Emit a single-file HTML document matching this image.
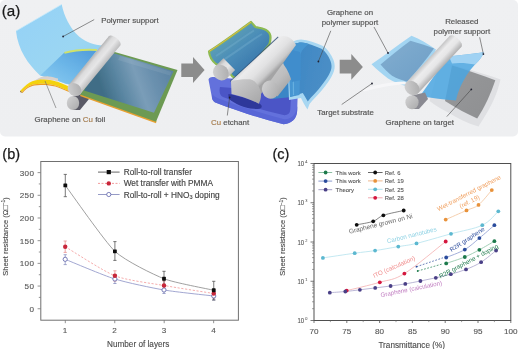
<!DOCTYPE html>
<html><head><meta charset="utf-8"><style>
html,body{margin:0;padding:0;background:#fff;}
svg{display:block;}
text{font-family:"Liberation Sans",sans-serif;}
.tk{font-size:8.1px;fill:#555;letter-spacing:0.45px;stroke:#555;stroke-width:0.12px;}
.lab{font-size:8.2px;fill:#4a4a4a;stroke:#4a4a4a;stroke-width:0.12px;}
.lg{font-size:8.3px;fill:#444;stroke:#444;stroke-width:0.15px;}
.tkc{font-size:8.1px;fill:#555;stroke:#555;stroke-width:0.12px;}
.lc{font-size:5.9px;fill:#555;stroke:#555;stroke-width:0.1px;}
.cl{font-size:6.2px;}
.pl{font-size:14.5px;fill:#1a1a1a;stroke:#1a1a1a;stroke-width:0.25px;}
.at{font-size:7.9px;fill:#555;stroke:#555;stroke-width:0.18px;}
</style></head><body>
<svg width="520" height="349" viewBox="0 0 520 349">
<filter id="soft" filterUnits="userSpaceOnUse" x="0" y="0" width="520" height="349"><feGaussianBlur stdDeviation="0.4"/></filter>
<rect width="520" height="349" fill="#fff"/>
<g filter="url(#soft)">
<defs>
  <linearGradient id="bgA" x1="0" y1="0" x2="0" y2="1">
    <stop offset="0" stop-color="#eff0f2"/><stop offset="1" stop-color="#eeeff1"/>
  </linearGradient>
  <linearGradient id="polyL" x1="0" y1="0" x2="1" y2="1">
    <stop offset="0" stop-color="#94d1f7"/><stop offset="0.6" stop-color="#9bd6f2"/><stop offset="1" stop-color="#8ccdf0"/>
  </linearGradient>
  <linearGradient id="polyL2" x1="0" y1="1" x2="1" y2="0">
    <stop offset="0" stop-color="#8ccdf2"/><stop offset="0.5" stop-color="#6cb6e8"/><stop offset="1" stop-color="#4f9ada"/>
  </linearGradient>
  <linearGradient id="rollG" x1="0" y1="0" x2="0" y2="1">
    <stop offset="0" stop-color="#b4b4b5"/><stop offset="0.25" stop-color="#dcdcdd"/><stop offset="0.55" stop-color="#e6e6e7"/><stop offset="1" stop-color="#bcbcbd"/>
  </linearGradient>
  <linearGradient id="capG" x1="0" y1="0" x2="1" y2="1">
    <stop offset="0" stop-color="#d4d4d5"/><stop offset="1" stop-color="#a9a9aa"/>
  </linearGradient>
  <linearGradient id="grInner" gradientUnits="userSpaceOnUse" x1="100" y1="85" x2="170" y2="60">
    <stop offset="0" stop-color="#3f6d86"/><stop offset="0.25" stop-color="#5a86a2"/><stop offset="0.5" stop-color="#7a9db8"/><stop offset="0.7" stop-color="#6a90ae"/><stop offset="1" stop-color="#5a82a2"/>
  </linearGradient>
  <linearGradient id="wavyG" gradientUnits="userSpaceOnUse" x1="225" y1="40" x2="250" y2="70">
    <stop offset="0" stop-color="#5a9cb6"/><stop offset="0.45" stop-color="#4a8cb8"/><stop offset="1" stop-color="#3a78ac"/>
  </linearGradient>
  <linearGradient id="rsheetG" x1="0" y1="0" x2="1" y2="0.3">
    <stop offset="0" stop-color="#3c86c4"/><stop offset="1" stop-color="#4a8ec6"/>
  </linearGradient>
  <linearGradient id="rollG2" gradientUnits="userSpaceOnUse" x1="250" y1="60" x2="268" y2="78">
    <stop offset="0" stop-color="#d2d2d3"/><stop offset="0.2" stop-color="#ececed"/><stop offset="0.55" stop-color="#e2e2e3"/><stop offset="0.85" stop-color="#cacacb"/><stop offset="1" stop-color="#a4a4a5"/>
  </linearGradient>
  <linearGradient id="capG2" x1="0" y1="0" x2="1" y2="1">
    <stop offset="0" stop-color="#cfcfd0"/><stop offset="1" stop-color="#a6a6a7"/>
  </linearGradient>
  <linearGradient id="rollG3" x1="0" y1="0" x2="1" y2="1">
    <stop offset="0" stop-color="#d0d0d1"/><stop offset="0.5" stop-color="#bdbdbe"/><stop offset="1" stop-color="#8e8e8f"/>
  </linearGradient>
  <linearGradient id="tgtG" x1="0" y1="0" x2="1" y2="1">
    <stop offset="0" stop-color="#98999b"/><stop offset="1" stop-color="#8e8f91"/>
  </linearGradient>
  <linearGradient id="inG" x1="0" y1="0" x2="1" y2="1">
    <stop offset="0" stop-color="#82aed0"/><stop offset="1" stop-color="#6e9ec6"/>
  </linearGradient>
  <linearGradient id="rollG4" x1="0" y1="0" x2="0" y2="1">
    <stop offset="0" stop-color="#c4c4c5"/><stop offset="0.3" stop-color="#ececed"/><stop offset="0.6" stop-color="#e6e6e7"/><stop offset="1" stop-color="#b0b0b1"/>
  </linearGradient>
</defs>
<rect x="0" y="0" width="518" height="136.5" rx="5" fill="url(#bgA)"/>
<text x="1.8" y="15.9" class="pl" style="font-size:15.2px">(a)</text>

<!-- ===== LEFT: roll-to-roll on Cu ===== -->
<!-- polymer sheet -->
<path d="M16,31 Q40,17 61.7,4.4 C64,16 70,28 79,36.5 C86,42 94,45.5 103,45.5 L72,84 L66,84 C56,80 47,77 40,75.5 C28,64 18,50 16,31 Z" fill="url(#polyL)"/>
<path d="M16,31 Q40,17 61.7,4.4" fill="none" stroke="#c4e8fa" stroke-width="0.8"/>
<!-- darker stacked region -->
<path d="M40.3,75.5 L64.4,52.5 C75,50 86,49.5 97,50 L70,85 C60,81 50,78 40.3,75.5 Z" fill="url(#polyL2)"/>
<path d="M64.4,52.8 C75,50 86,49.3 97,50" fill="none" stroke="#cfe26a" stroke-width="1.8"/>
<!-- white strip -->
<path d="M35.5,80 C40,77 44,76.2 48.5,76.4 C52,76.7 55,77.5 58,78.5 L58,81.5 C55,80.6 52,80 48.5,79.8 C44,79.6 40,79.8 35.5,80.8 Z" fill="#d9d1cc"/>
<!-- Cu foil -->
<path d="M20.5,90.5 C25,86 29,82.5 32.3,81.3 C36,80 40,79.5 43.8,79.6 C48,79.7 52,80.3 55.4,81.3 C59,82.3 63,83.8 69,86.5 L69,90.8 C63,88.5 59,86.5 55.4,85.4 C51,84.2 47,83.7 43.8,83.7 C39,83.8 35,84 32.3,84.8 C28,86 24.5,89 21.9,92.2 Z" fill="#f4d20c"/>
<path d="M21.9,92.2 C24.5,89 28,86 32.3,84.8 C35,84 39,83.8 43.8,83.7 C47,83.7 51,84.2 55.4,85.4 C59,86.5 63,88.5 69,90.8 L69,92 C63,89.8 59,87.8 55.4,86.6 C51,85.4 47,84.9 43.8,84.9 C39,85 35,85.2 32.3,86 C28,87.2 25,90 22.5,93 Z" fill="#ee9e22"/>
<path d="M20.5,90.5 L21.9,92.2 L22.5,93 L20,92 Z" fill="#9a6a20"/>
<!-- lower roller -->
<path d="M73,96 L86,93 L89,99 L80,110 L73,110 Z" fill="#5a5a66"/>
<ellipse cx="73" cy="103" rx="6.2" ry="7" fill="url(#capG)"/>
<!-- graphene sheet -->
<path d="M80,96 L156,123.2 L156.5,121 L81,94 Z" fill="#e8a030"/>
<path d="M106,49.5 L177.5,70.1 L156,121.7 L80,94.5 Z" fill="#6c9a52"/>
<path d="M107,51.3 L173.6,71.3 L154,112.8 L84,90.5 Z" fill="url(#grInner)"/>
<path d="M120,56 L171.5,72 L170,75.5 L118,60 Z" fill="#ffffff" fill-opacity="0.08"/>
<!-- upper roller -->
<g transform="translate(74.5,89.5) rotate(-50.5)">
  <rect x="0" y="-7.4" width="63" height="14.8" fill="url(#rollG)"/>
  <ellipse cx="63" cy="0" rx="3.5" ry="7.4" fill="url(#rollG)"/>
  <ellipse cx="0" cy="0" rx="6" ry="7.4" fill="url(#capG)"/>
</g>
<!-- leader lines -->
<line x1="63.1" y1="36.5" x2="94.2" y2="19.6" stroke="#444" stroke-width="0.6"/>
<circle cx="63.1" cy="36.5" r="0.9" fill="#223"/>
<line x1="45" y1="81" x2="56" y2="108" stroke="#666" stroke-width="0.6"/>
<text x="101.2" y="23.3" class="at">Polymer support</text>
<text x="34.6" y="122.3" class="at">Graphene on <tspan fill="#e8a050">Cu</tspan> foil</text>

<!-- ===== MIDDLE: etching ===== -->
<!-- tray -->
<path d="M208.5,79.5 C209,77.3 211,76.6 214,77 L292,84 C295.5,84.5 297.8,87 297.8,91 L297.2,110 C297,116 294.6,120.2 290,122.6 C287.5,123.9 285.5,124.3 283.6,124.3 C260,118.3 236,110.5 216,102.8 C213.5,101.8 212.5,100.2 212,98 Z" fill="#6371dc"/>
<path d="M212,98 C212.5,100.2 213.5,101.8 216,102.8 C236,110.5 260,118.3 283.6,124.3 C285.5,124.3 287.5,123.9 290,122.6 C294.6,120.2 297,116 297.2,110 L297.3,106 C296.5,112 294,116 290,118 C288,119 286,119.3 284,119.2 C262,113.5 240,106.5 220,99 C216.5,97.7 214,96.5 212.3,94 Z" fill="#5866d6"/>
<path d="M220,87 L287.5,92.5 C290,93 291.2,95 291,97.5 L290.3,109.5 C290,113.2 288,115.2 284.5,115.2 C262,110.5 240,103.5 223,97 C220,95.5 218.8,92 220,87 Z" fill="#4b55c6"/>
<path d="M228.5,94 C240,96 252,100 260,104 C263,106 262,108.5 257.5,109 C248,109 238,105.5 231,100.5 C229,99 228,96.5 228.5,94 Z" fill="#2f379a"/>
<!-- right sheet (behind rollers) -->
<path d="M264,72 L289,46 L292,97 L272,99 Z" fill="#3a86c6"/>
<path d="M287,48 C290,42.5 295.5,39.5 301,39.5 C308,40 316,43 323,46 C327.5,49 331,54 333.5,60 C335,64 335,68 334,71 C332.5,75 330.5,78.5 328.5,81.5 C324,88 318,95 312,101 L309.5,104 L307.5,109.5 C305,106 303,102 301,98 L289,100 Z" fill="#a8d7f2"/>
<path d="M289,49 C292,44.5 296.5,42.5 301.5,42.5 C307.5,43 315,46 321.5,48.8 C325.5,51.5 328.5,56 330.5,61 C331.8,64.5 331.8,67.5 331,70 C329.8,73.5 328,76.5 326,79.5 C321.5,86 316,92.5 310.5,98 L307.8,101.5 C306,98.5 304.3,95.5 302.8,93 L290,97 Z" fill="url(#rsheetG)"/>
<path d="M289,49 C292,44.5 296.5,42.5 301.5,42.5 C304,42.5 306.5,43 309,44 C305,46.5 302,50 300.5,54 L299.5,95 L290,97 Z" fill="#4796d2"/>
<path d="M293,52 L293.5,95" stroke="#7cc0ea" stroke-width="1.2" stroke-opacity="0.6"/>
<!-- left wavy sheet -->
<path d="M209,51.5 C223,42.5 237,32 251.1,22 C253,23.5 254,26 255.6,27 C258,27.8 260.5,27.8 263.1,28.8 C266.5,30 269.5,32 270.3,35.5 C270.8,38.5 270.3,41.5 269.3,44.5 L240,80 L232.5,76.5 C229,71 223,66.5 216,64 C211.5,60.5 209.5,56.5 209,51.5 Z" fill="url(#wavyG)" stroke="#8cba52" stroke-width="2.2" stroke-linejoin="round"/>
<path d="M209,51.5 C223,42.5 237,32 251.1,22" fill="none" stroke="#e2b840" stroke-width="1"/>
<path d="M216,56 C230,47 242,38 254,30.5 M221,61.5 C236,52 249,42 262,34" fill="none" stroke="#7ab4d0" stroke-width="2" stroke-opacity="0.35"/>
<!-- left small roller -->
<g transform="translate(220.8,72.6) rotate(-45)">
  <rect x="0" y="-8.3" width="12" height="16.6" fill="url(#rollG)"/>
  <ellipse cx="0" cy="0" rx="7.4" ry="8.3" fill="url(#capG)"/>
</g>
<!-- right small roller -->
<path d="M263,83 L284,62 L296,73 L277.5,96.5 Z" fill="url(#rollG3)"/>
<path d="M281,58 L292,50 L300,52 L301,80 L292,82 C290,76 288,70 284,65 Z" fill="#3f8dcc"/>
<!-- big roller (cone in perspective) -->
<path d="M230.5,81.5 L278.4,37.2" stroke="#2c4c70" stroke-width="1.6" stroke-opacity="0.8"/>
<path d="M231,81 L278.9,36.9 C285,34.5 292,37 296,44.9 L261,94 Z" fill="url(#rollG2)"/>
<path d="M231,81 C238,79.5 244,79 250,79.3 C255,80.5 259,85 260.8,92 C261.5,96.5 260.5,100.5 258.7,103.7 C252,100 242,96.5 231.5,94 Z" fill="url(#capG2)"/>
<ellipse cx="270.3" cy="89.6" rx="8.3" ry="9.2" transform="rotate(-20 270.3 89.6)" fill="url(#capG)"/>
<!-- leader & text -->
<line x1="229.6" y1="97.5" x2="227.3" y2="115.5" stroke="#444" stroke-width="0.6"/><circle cx="229.6" cy="97.5" r="0.9" fill="#223"/>
<text x="211" y="125.4" class="at"><tspan fill="#e8a050">Cu</tspan> etchant</text>

<!-- ===== RIGHT: transfer to target ===== -->
<!-- gray target (graphene on target) -->
<path d="M440,62 C458,66 478,72 492,76.5 C495,77.5 498,78.5 500.5,79.5 C499,86 497,92 494.5,98 C491.5,105 487.5,112 483.5,118.5 C481.5,121.5 480,124 478.6,126.5 C468,123.5 458,118.5 449,113 C442,109 436,106 429.6,101 Z" fill="#dfe0e3"/>
<path d="M452,65.5 C466,69.5 481,75 495.3,80.3 C493,87 490.5,93.5 487.5,100 C484.5,106.5 481,112.5 477.2,118.5 C467,114 456,108 445,101 Z" fill="url(#tgtG)"/>
<!-- incoming sheet -->
<path d="M371.5,64.3 C385,55 398,45 411.5,35.7 C420,39 428,44 436,49.5 L421,82 L408,86.5 C400,84.5 394,82 388,78.5 C382,74 376.5,69.5 371.5,64.3 Z" fill="#a3d5f2"/>
<path d="M380.5,64.4 C390,56.5 400,48.5 410.4,40.8 C418,43 426,45.5 434,48.6 C426,60 417,71 407.3,81.7 C402,80.5 397,78.5 392,75.8 C388,72.5 384,68.5 380.5,64.4 Z" fill="url(#inG)"/>
<!-- target substrate (white) -->
<path d="M362,89.5 C375,85 390,82 404,81.5 L410,84 C395,84.5 380,87 364,91.5 Z" fill="#f6f6f8"/>
<!-- blue polymer going right -->
<path d="M420,96 L448,56.5 C460,55.5 472,54 484,52.3 C482,57 479,61 475,64.5 C468.5,71.5 464,79 460.5,86.5 C458.5,91 457,95.5 456,100.5 C444,99.5 432,98 421,96.5 Z" fill="#4aa6e2" fill-opacity="0.85"/>
<path d="M449,56.5 C460,55.5 472,54 484,52.3 C482,57 479,61 475,64.5 C467,63 459,62.5 452,63.5 Z" fill="#a6d6f4" fill-opacity="0.9"/>
<!-- lower roller -->
<path d="M412,95.5 L425,92.5 L428,99 L419,109 L412,109 Z" fill="#8a8a92"/>
<ellipse cx="412" cy="102.3" rx="6.6" ry="7" fill="url(#capG)"/>
<!-- upper roller -->
<g transform="translate(412,88) rotate(-47)">
  <rect x="0" y="-8" width="64" height="16" fill="url(#rollG4)"/>
  <ellipse cx="64" cy="0" rx="3.5" ry="8" fill="url(#rollG4)"/>
  <ellipse cx="0" cy="0" rx="6.6" ry="8" fill="url(#capG)"/>
</g>
<!-- leaders -->
<line x1="330.8" y1="30.8" x2="318.4" y2="61.5" stroke="#444" stroke-width="0.6"/>
<circle cx="318.4" cy="61.5" r="0.9" fill="#223"/>
<line x1="374" y1="27" x2="388" y2="53" stroke="#444" stroke-width="0.6"/>
<circle cx="388" cy="53" r="0.9" fill="#223"/>
<line x1="341.7" y1="104.5" x2="372" y2="83.5" stroke="#444" stroke-width="0.6"/>
<circle cx="372" cy="83.5" r="0.9" fill="#223"/>
<line x1="479.7" y1="37.3" x2="483.4" y2="54.1" stroke="#444" stroke-width="0.6"/>
<circle cx="483.4" cy="54.1" r="0.9" fill="#223"/>
<line x1="446.8" y1="116.6" x2="471.3" y2="89.4" stroke="#444" stroke-width="0.6"/>
<circle cx="471.3" cy="89.4" r="0.9" fill="#223"/>
<!-- labels -->
<text x="350" y="15" text-anchor="middle" class="at">Graphene on</text>
<text x="350" y="24.6" text-anchor="middle" class="at">polymer support</text>
<text x="461.8" y="23.6" text-anchor="middle" class="at">Released</text>
<text x="461.8" y="33.8" text-anchor="middle" class="at">polymer support</text>
<text x="317.2" y="114.6" class="at">Target substrate</text>
<text x="385.6" y="124.6" class="at">Graphene on target</text>

<!-- arrows -->
<path d="M181.3,63.5 H193 V57.1 L204.6,70 L193,82.9 V77.1 H181.3 Z" fill="#8c8c8c"/>
<path d="M339.7,59.8 H351.3 V54 L362.9,66.9 L351.3,79.8 V73.4 H339.7 Z" fill="#8c8c8c"/>

<rect x="40.8" y="161.5" width="197.6" height="158.7" fill="none" stroke="#707070" stroke-width="1"/>
<line x1="37.6" y1="308.75" x2="40.8" y2="308.75" stroke="#777" stroke-width="0.8"/>
<text x="34.5" y="311.65" text-anchor="end" class="tk">0</text>
<line x1="38.8" y1="297.4" x2="40.8" y2="297.4" stroke="#777" stroke-width="0.8"/>
<line x1="37.6" y1="286.06" x2="40.8" y2="286.06" stroke="#777" stroke-width="0.8"/>
<text x="34.5" y="288.96" text-anchor="end" class="tk">50</text>
<line x1="38.8" y1="274.72" x2="40.8" y2="274.72" stroke="#777" stroke-width="0.8"/>
<line x1="37.6" y1="263.37" x2="40.8" y2="263.37" stroke="#777" stroke-width="0.8"/>
<text x="34.5" y="266.27" text-anchor="end" class="tk">100</text>
<line x1="38.8" y1="252.03" x2="40.8" y2="252.03" stroke="#777" stroke-width="0.8"/>
<line x1="37.6" y1="240.68" x2="40.8" y2="240.68" stroke="#777" stroke-width="0.8"/>
<text x="34.5" y="243.58" text-anchor="end" class="tk">150</text>
<line x1="38.8" y1="229.34" x2="40.8" y2="229.34" stroke="#777" stroke-width="0.8"/>
<line x1="37.6" y1="217.99" x2="40.8" y2="217.99" stroke="#777" stroke-width="0.8"/>
<text x="34.5" y="220.89" text-anchor="end" class="tk">200</text>
<line x1="38.8" y1="206.65" x2="40.8" y2="206.65" stroke="#777" stroke-width="0.8"/>
<line x1="37.6" y1="195.3" x2="40.8" y2="195.3" stroke="#777" stroke-width="0.8"/>
<text x="34.5" y="198.2" text-anchor="end" class="tk">250</text>
<line x1="38.8" y1="183.95" x2="40.8" y2="183.95" stroke="#777" stroke-width="0.8"/>
<line x1="37.6" y1="172.61" x2="40.8" y2="172.61" stroke="#777" stroke-width="0.8"/>
<text x="34.5" y="175.51" text-anchor="end" class="tk">300</text>
<line x1="65.3" y1="320.2" x2="65.3" y2="323.2" stroke="#777" stroke-width="0.8"/>
<text x="65.3" y="333.2" text-anchor="middle" class="tk">1</text>
<line x1="114.75" y1="320.2" x2="114.75" y2="323.2" stroke="#777" stroke-width="0.8"/>
<text x="114.75" y="333.2" text-anchor="middle" class="tk">2</text>
<line x1="164.2" y1="320.2" x2="164.2" y2="323.2" stroke="#777" stroke-width="0.8"/>
<text x="164.2" y="333.2" text-anchor="middle" class="tk">3</text>
<line x1="213.65" y1="320.2" x2="213.65" y2="323.2" stroke="#777" stroke-width="0.8"/>
<text x="213.65" y="333.2" text-anchor="middle" class="tk">4</text>
<text x="138.2" y="346.6" text-anchor="middle" class="lab">Number of layers</text>
<text transform="translate(7.5,236.5) rotate(-90)" text-anchor="middle" class="lab" style="font-size:7.5px">Sheet resistance (Ω□<tspan dy="-2.4" font-size="4.8">−1</tspan><tspan dy="2.4">)</tspan></text>
<path d="M65.2,259.3 C71,261.6 103.37,275.42 114.9,279 C126.43,282.58 152.47,288.02 164,290 C175.53,291.98 207.95,295.3 213.75,296" fill="none" stroke="#979dcc" stroke-width="0.9"/>
<path d="M65.2,246.7 C71,250.09 103.37,271.27 114.9,275.8 C126.43,280.33 152.47,283.44 164,285.5 C175.53,287.56 207.95,292.57 213.75,293.5" fill="none" stroke="#f4a4a4" stroke-width="0.9" stroke-dasharray="2.2,1.6"/>
<path d="M65.3,185.4 C70.26,191.99 105.03,241.97 114.9,251.3 C124.77,260.63 154.12,274.86 164,278.75 C173.88,282.64 208.78,289.1 213.75,290.25" fill="none" stroke="#959595" stroke-width="0.9"/>
<line x1="65.2" y1="254.7" x2="65.2" y2="264.6" stroke="#8a90c0" stroke-width="0.8"/><line x1="63.6" y1="254.7" x2="66.8" y2="254.7" stroke="#8a90c0" stroke-width="0.8"/><line x1="63.6" y1="264.6" x2="66.8" y2="264.6" stroke="#8a90c0" stroke-width="0.8"/>
<line x1="114.9" y1="274.5" x2="114.9" y2="283.5" stroke="#8a90c0" stroke-width="0.8"/><line x1="113.3" y1="274.5" x2="116.5" y2="274.5" stroke="#8a90c0" stroke-width="0.8"/><line x1="113.3" y1="283.5" x2="116.5" y2="283.5" stroke="#8a90c0" stroke-width="0.8"/>
<line x1="164" y1="286.5" x2="164" y2="293.5" stroke="#8a90c0" stroke-width="0.8"/><line x1="162.4" y1="286.5" x2="165.6" y2="286.5" stroke="#8a90c0" stroke-width="0.8"/><line x1="162.4" y1="293.5" x2="165.6" y2="293.5" stroke="#8a90c0" stroke-width="0.8"/>
<line x1="213.75" y1="292" x2="213.75" y2="300" stroke="#8a90c0" stroke-width="0.8"/><line x1="212.15" y1="292" x2="215.35" y2="292" stroke="#8a90c0" stroke-width="0.8"/><line x1="212.15" y1="300" x2="215.35" y2="300" stroke="#8a90c0" stroke-width="0.8"/>
<line x1="65.2" y1="241" x2="65.2" y2="252.4" stroke="#e89090" stroke-width="0.8"/><line x1="63.6" y1="241" x2="66.8" y2="241" stroke="#e89090" stroke-width="0.8"/><line x1="63.6" y1="252.4" x2="66.8" y2="252.4" stroke="#e89090" stroke-width="0.8"/>
<line x1="114.9" y1="270.8" x2="114.9" y2="281" stroke="#e89090" stroke-width="0.8"/><line x1="113.3" y1="270.8" x2="116.5" y2="270.8" stroke="#e89090" stroke-width="0.8"/><line x1="113.3" y1="281" x2="116.5" y2="281" stroke="#e89090" stroke-width="0.8"/>
<line x1="164" y1="281" x2="164" y2="290" stroke="#e89090" stroke-width="0.8"/><line x1="162.4" y1="281" x2="165.6" y2="281" stroke="#e89090" stroke-width="0.8"/><line x1="162.4" y1="290" x2="165.6" y2="290" stroke="#e89090" stroke-width="0.8"/>
<line x1="213.75" y1="289.5" x2="213.75" y2="298" stroke="#e89090" stroke-width="0.8"/><line x1="212.15" y1="289.5" x2="215.35" y2="289.5" stroke="#e89090" stroke-width="0.8"/><line x1="212.15" y1="298" x2="215.35" y2="298" stroke="#e89090" stroke-width="0.8"/>
<line x1="65.3" y1="174.4" x2="65.3" y2="196.7" stroke="#555" stroke-width="0.8"/><line x1="63.7" y1="174.4" x2="66.9" y2="174.4" stroke="#555" stroke-width="0.8"/><line x1="63.7" y1="196.7" x2="66.9" y2="196.7" stroke="#555" stroke-width="0.8"/>
<line x1="114.9" y1="241.6" x2="114.9" y2="260.4" stroke="#555" stroke-width="0.8"/><line x1="113.3" y1="241.6" x2="116.5" y2="241.6" stroke="#555" stroke-width="0.8"/><line x1="113.3" y1="260.4" x2="116.5" y2="260.4" stroke="#555" stroke-width="0.8"/>
<line x1="164" y1="271.3" x2="164" y2="286.5" stroke="#555" stroke-width="0.8"/><line x1="162.4" y1="271.3" x2="165.6" y2="271.3" stroke="#555" stroke-width="0.8"/><line x1="162.4" y1="286.5" x2="165.6" y2="286.5" stroke="#555" stroke-width="0.8"/>
<line x1="213.75" y1="281.3" x2="213.75" y2="300" stroke="#555" stroke-width="0.8"/><line x1="212.15" y1="281.3" x2="215.35" y2="281.3" stroke="#555" stroke-width="0.8"/><line x1="212.15" y1="300" x2="215.35" y2="300" stroke="#555" stroke-width="0.8"/>
<circle cx="65.2" cy="259.3" r="2.1" fill="#fff" stroke="#5a5fa8" stroke-width="0.8"/>
<circle cx="114.9" cy="279" r="2.1" fill="#fff" stroke="#5a5fa8" stroke-width="0.8"/>
<circle cx="164" cy="290" r="2.1" fill="#fff" stroke="#5a5fa8" stroke-width="0.8"/>
<circle cx="213.75" cy="296" r="2.1" fill="#fff" stroke="#5a5fa8" stroke-width="0.8"/>
<circle cx="65.2" cy="246.7" r="2.2" fill="#c8283a"/>
<circle cx="114.9" cy="275.8" r="2.2" fill="#c8283a"/>
<circle cx="164" cy="285.5" r="2.2" fill="#c8283a"/>
<circle cx="213.75" cy="293.5" r="2.2" fill="#c8283a"/>
<rect x="63.4" y="183.5" width="3.8" height="3.8" rx="0.6" fill="#111"/>
<rect x="113" y="249.4" width="3.8" height="3.8" rx="0.6" fill="#111"/>
<rect x="162.1" y="276.85" width="3.8" height="3.8" rx="0.6" fill="#111"/>
<rect x="211.85" y="288.35" width="3.8" height="3.8" rx="0.6" fill="#111"/>
<line x1="98" y1="172.1" x2="119.6" y2="172.1" stroke="#555" stroke-width="0.9"/><rect x="106.7" y="170" width="4.2" height="4.2" fill="#111"/>
<text x="123.7" y="175.1" class="lg">Roll-to-roll transfer</text>
<line x1="98" y1="183.4" x2="119.6" y2="183.4" stroke="#f09090" stroke-width="0.9" stroke-dasharray="2,1.5"/><circle cx="108.8" cy="183.4" r="2.2" fill="#c8283a"/>
<text x="123.7" y="186.4" class="lg">Wet transfer with PMMA</text>
<line x1="98" y1="194.5" x2="119.6" y2="194.5" stroke="#8a90c0" stroke-width="0.9"/><circle cx="108.8" cy="194.5" r="2.1" fill="#fff" stroke="#5a5fa8" stroke-width="0.8"/>
<text x="123.7" y="197.5" class="lg">Roll-to-roll + HNO<tspan dy="1.6" font-size="5.5">3</tspan><tspan dy="-1.6"> doping</tspan></text>
<text x="2.3" y="158.6" class="pl">(b)</text>
<rect x="314.0" y="163.5" width="196.8" height="157" fill="none" stroke="#505050" stroke-width="1"/>
<line x1="312" y1="308.68" x2="314.0" y2="308.68" stroke="#666" stroke-width="0.6"/>
<line x1="312" y1="301.77" x2="314.0" y2="301.77" stroke="#666" stroke-width="0.6"/>
<line x1="312" y1="296.87" x2="314.0" y2="296.87" stroke="#666" stroke-width="0.6"/>
<line x1="312" y1="293.07" x2="314.0" y2="293.07" stroke="#666" stroke-width="0.6"/>
<line x1="312" y1="289.96" x2="314.0" y2="289.96" stroke="#666" stroke-width="0.6"/>
<line x1="312" y1="287.33" x2="314.0" y2="287.33" stroke="#666" stroke-width="0.6"/>
<line x1="312" y1="285.05" x2="314.0" y2="285.05" stroke="#666" stroke-width="0.6"/>
<line x1="312" y1="283.05" x2="314.0" y2="283.05" stroke="#666" stroke-width="0.6"/>
<line x1="312" y1="269.43" x2="314.0" y2="269.43" stroke="#666" stroke-width="0.6"/>
<line x1="312" y1="262.52" x2="314.0" y2="262.52" stroke="#666" stroke-width="0.6"/>
<line x1="312" y1="257.62" x2="314.0" y2="257.62" stroke="#666" stroke-width="0.6"/>
<line x1="312" y1="253.82" x2="314.0" y2="253.82" stroke="#666" stroke-width="0.6"/>
<line x1="312" y1="250.71" x2="314.0" y2="250.71" stroke="#666" stroke-width="0.6"/>
<line x1="312" y1="248.08" x2="314.0" y2="248.08" stroke="#666" stroke-width="0.6"/>
<line x1="312" y1="245.8" x2="314.0" y2="245.8" stroke="#666" stroke-width="0.6"/>
<line x1="312" y1="243.8" x2="314.0" y2="243.8" stroke="#666" stroke-width="0.6"/>
<line x1="312" y1="230.18" x2="314.0" y2="230.18" stroke="#666" stroke-width="0.6"/>
<line x1="312" y1="223.27" x2="314.0" y2="223.27" stroke="#666" stroke-width="0.6"/>
<line x1="312" y1="218.37" x2="314.0" y2="218.37" stroke="#666" stroke-width="0.6"/>
<line x1="312" y1="214.57" x2="314.0" y2="214.57" stroke="#666" stroke-width="0.6"/>
<line x1="312" y1="211.46" x2="314.0" y2="211.46" stroke="#666" stroke-width="0.6"/>
<line x1="312" y1="208.83" x2="314.0" y2="208.83" stroke="#666" stroke-width="0.6"/>
<line x1="312" y1="206.55" x2="314.0" y2="206.55" stroke="#666" stroke-width="0.6"/>
<line x1="312" y1="204.55" x2="314.0" y2="204.55" stroke="#666" stroke-width="0.6"/>
<line x1="312" y1="190.93" x2="314.0" y2="190.93" stroke="#666" stroke-width="0.6"/>
<line x1="312" y1="184.02" x2="314.0" y2="184.02" stroke="#666" stroke-width="0.6"/>
<line x1="312" y1="179.12" x2="314.0" y2="179.12" stroke="#666" stroke-width="0.6"/>
<line x1="312" y1="175.32" x2="314.0" y2="175.32" stroke="#666" stroke-width="0.6"/>
<line x1="312" y1="172.21" x2="314.0" y2="172.21" stroke="#666" stroke-width="0.6"/>
<line x1="312" y1="169.58" x2="314.0" y2="169.58" stroke="#666" stroke-width="0.6"/>
<line x1="312" y1="167.3" x2="314.0" y2="167.3" stroke="#666" stroke-width="0.6"/>
<line x1="312" y1="165.3" x2="314.0" y2="165.3" stroke="#666" stroke-width="0.6"/>
<line x1="310.5" y1="320.5" x2="314.0" y2="320.5" stroke="#555" stroke-width="0.8"/>
<text x="297.4" y="323.2" class="tkc" style="font-size:7.4px" textLength="6.6" lengthAdjust="spacingAndGlyphs">10</text><text x="305.2" y="320.2" class="tkc" style="font-size:3.9px;stroke-width:0.05px">0</text>
<line x1="310.5" y1="281.25" x2="314.0" y2="281.25" stroke="#555" stroke-width="0.8"/>
<text x="297.4" y="283.95" class="tkc" style="font-size:7.4px" textLength="6.6" lengthAdjust="spacingAndGlyphs">10</text><text x="305.2" y="280.95" class="tkc" style="font-size:3.9px;stroke-width:0.05px">1</text>
<line x1="310.5" y1="242" x2="314.0" y2="242" stroke="#555" stroke-width="0.8"/>
<text x="297.4" y="244.7" class="tkc" style="font-size:7.4px" textLength="6.6" lengthAdjust="spacingAndGlyphs">10</text><text x="305.2" y="241.7" class="tkc" style="font-size:3.9px;stroke-width:0.05px">2</text>
<line x1="310.5" y1="202.75" x2="314.0" y2="202.75" stroke="#555" stroke-width="0.8"/>
<text x="297.4" y="205.45" class="tkc" style="font-size:7.4px" textLength="6.6" lengthAdjust="spacingAndGlyphs">10</text><text x="305.2" y="202.45" class="tkc" style="font-size:3.9px;stroke-width:0.05px">3</text>
<line x1="310.5" y1="163.5" x2="314.0" y2="163.5" stroke="#555" stroke-width="0.8"/>
<text x="297.4" y="166.2" class="tkc" style="font-size:7.4px" textLength="6.6" lengthAdjust="spacingAndGlyphs">10</text><text x="305.2" y="163.2" class="tkc" style="font-size:3.9px;stroke-width:0.05px">4</text>
<line x1="314" y1="320.5" x2="314" y2="323" stroke="#555" stroke-width="0.8"/>
<text x="314" y="334" text-anchor="middle" class="tkc">70</text>
<line x1="346.8" y1="320.5" x2="346.8" y2="323" stroke="#555" stroke-width="0.8"/>
<text x="346.8" y="334" text-anchor="middle" class="tkc">75</text>
<line x1="379.6" y1="320.5" x2="379.6" y2="323" stroke="#555" stroke-width="0.8"/>
<text x="379.6" y="334" text-anchor="middle" class="tkc">80</text>
<line x1="412.4" y1="320.5" x2="412.4" y2="323" stroke="#555" stroke-width="0.8"/>
<text x="412.4" y="334" text-anchor="middle" class="tkc">85</text>
<line x1="445.2" y1="320.5" x2="445.2" y2="323" stroke="#555" stroke-width="0.8"/>
<text x="445.2" y="334" text-anchor="middle" class="tkc">90</text>
<line x1="478" y1="320.5" x2="478" y2="323" stroke="#555" stroke-width="0.8"/>
<text x="478" y="334" text-anchor="middle" class="tkc">95</text>
<line x1="510.8" y1="320.5" x2="510.8" y2="323" stroke="#555" stroke-width="0.8"/>
<text x="510.8" y="334" text-anchor="middle" class="tkc">100</text>
<line x1="330.4" y1="320.5" x2="330.4" y2="322.1" stroke="#666" stroke-width="0.6"/>
<line x1="363.2" y1="320.5" x2="363.2" y2="322.1" stroke="#666" stroke-width="0.6"/>
<line x1="396" y1="320.5" x2="396" y2="322.1" stroke="#666" stroke-width="0.6"/>
<line x1="428.8" y1="320.5" x2="428.8" y2="322.1" stroke="#666" stroke-width="0.6"/>
<line x1="461.6" y1="320.5" x2="461.6" y2="322.1" stroke="#666" stroke-width="0.6"/>
<line x1="494.4" y1="320.5" x2="494.4" y2="322.1" stroke="#666" stroke-width="0.6"/>
<text x="411.7" y="348.3" text-anchor="middle" class="lab">Transmittance (%)</text>
<text transform="translate(285.2,236.5) rotate(-90)" text-anchor="middle" class="lab" style="font-size:7.5px">Sheet resistance (Ω□<tspan dy="-2.4" font-size="4.8">−1</tspan><tspan dy="2.4">)</tspan></text>
<text x="272.4" y="158.6" class="pl">(c)</text>
<path d="M356.7,224.8 C359.45,224.22 368.75,222.88 373.2,221.3 C377.65,219.72 378.32,217.1 383.4,215.3 C388.48,213.5 400.32,211.3 403.7,210.5" fill="none" stroke="#666" stroke-width="0.8"/>
<path d="M445.7,219.6 C449.17,218.07 461.03,212.85 466.5,210.4 C471.97,207.95 474.28,208.28 478.5,204.9 C482.72,201.52 489.58,192.57 491.8,190.1" fill="none" stroke="#f3c49c" stroke-width="0.8"/>
<path d="M322.9,257.9 C328.2,257.12 346,254.42 354.7,253.2 C363.4,251.98 367.83,251.7 375.1,250.6 C382.37,249.5 391.4,247.8 398.3,246.6 C405.2,245.4 407.72,245.53 416.5,243.4 C425.28,241.27 440.03,236.83 451,233.8 C461.97,230.77 474.42,228.95 482.3,225.2 C490.18,221.45 495.63,213.62 498.3,211.3" fill="none" stroke="#b4e2ee" stroke-width="0.8"/>
<path d="M346.7,290.6 C352.22,289.22 370.18,285.13 379.8,282.3 C389.42,279.47 393.42,280.4 404.4,273.6 C415.38,266.8 438.82,246.85 445.7,241.5" fill="none" stroke="#f4b0b0" stroke-width="0.8"/>
<path d="M329.8,292.7 C332.38,292.5 340.28,291.98 345.3,291.5 C350.32,291.02 354.92,290.4 359.9,289.8 C364.88,289.2 370.08,288.53 375.2,287.9 C380.32,287.27 385.58,286.67 390.6,286 C395.62,285.33 400.33,284.73 405.3,283.9 C410.27,283.07 415.32,282.02 420.4,281 C425.48,279.98 430.73,278.93 435.8,277.8 C440.87,276.67 445.77,275.6 450.8,274.2 C455.83,272.8 460.95,271.4 466,269.4 C471.05,267.4 476.08,265.35 481.1,262.2 C486.12,259.05 493.6,252.45 496.1,250.5" fill="none" stroke="#aaa4cc" stroke-width="0.8"/>
<path d="M446.2,257.5 C449.3,256.18 459.27,252.83 464.8,249.6 C470.33,246.37 474.47,242.17 479.4,238.1 C484.33,234.03 491.9,227.35 494.4,225.2" fill="none" stroke="#8c9ad0" stroke-width="0.8"/>
<path d="M446.2,263.4 C449.3,262.33 459.27,259.27 464.8,257 C470.33,254.73 474.47,252.43 479.4,249.8 C484.33,247.17 491.9,242.63 494.4,241.2" fill="none" stroke="#8cc4a4" stroke-width="0.8"/>
<path d="M416.5,266.7 L443,257.8" stroke="#2c4c9c" stroke-width="0.7" stroke-dasharray="1.8,1.5" fill="none"/>
<path d="M417.7,271 L443,263.8" stroke="#1e7a4c" stroke-width="0.7" stroke-dasharray="1.8,1.5" fill="none"/>
<circle cx="416.5" cy="266.7" r="0.9" fill="#2c4c9c"/><circle cx="417.7" cy="271" r="0.9" fill="#1e7a4c"/>
<circle cx="356.7" cy="224.8" r="1.9" fill="#111"/>
<circle cx="373.2" cy="221.3" r="1.9" fill="#111"/>
<circle cx="383.4" cy="215.3" r="1.9" fill="#111"/>
<circle cx="403.7" cy="210.5" r="1.9" fill="#111"/>
<circle cx="445.7" cy="219.6" r="1.9" fill="#e8923a"/>
<circle cx="466.5" cy="210.4" r="1.9" fill="#e8923a"/>
<circle cx="478.5" cy="204.9" r="1.9" fill="#e8923a"/>
<circle cx="491.8" cy="190.1" r="1.9" fill="#e8923a"/>
<circle cx="322.9" cy="257.9" r="1.9" fill="#5cb8d0"/>
<circle cx="354.7" cy="253.2" r="1.9" fill="#5cb8d0"/>
<circle cx="375.1" cy="250.6" r="1.9" fill="#5cb8d0"/>
<circle cx="398.3" cy="246.6" r="1.9" fill="#5cb8d0"/>
<circle cx="416.5" cy="243.4" r="1.9" fill="#5cb8d0"/>
<circle cx="451" cy="233.8" r="1.9" fill="#5cb8d0"/>
<circle cx="482.3" cy="225.2" r="1.9" fill="#5cb8d0"/>
<circle cx="498.3" cy="211.3" r="1.9" fill="#5cb8d0"/>
<circle cx="346.7" cy="290.6" r="1.9" fill="#d4143c"/>
<circle cx="379.8" cy="282.3" r="1.9" fill="#d4143c"/>
<circle cx="404.4" cy="273.6" r="1.9" fill="#d4143c"/>
<circle cx="445.7" cy="241.5" r="1.9" fill="#d4143c"/>
<circle cx="329.8" cy="292.7" r="1.9" fill="#4a3f86"/>
<circle cx="345.3" cy="291.5" r="1.9" fill="#4a3f86"/>
<circle cx="359.9" cy="289.8" r="1.9" fill="#4a3f86"/>
<circle cx="375.2" cy="287.9" r="1.9" fill="#4a3f86"/>
<circle cx="390.6" cy="286" r="1.9" fill="#4a3f86"/>
<circle cx="405.3" cy="283.9" r="1.9" fill="#4a3f86"/>
<circle cx="420.4" cy="281" r="1.9" fill="#4a3f86"/>
<circle cx="435.8" cy="277.8" r="1.9" fill="#4a3f86"/>
<circle cx="450.8" cy="274.2" r="1.9" fill="#4a3f86"/>
<circle cx="466" cy="269.4" r="1.9" fill="#4a3f86"/>
<circle cx="481.1" cy="262.2" r="1.9" fill="#4a3f86"/>
<circle cx="496.1" cy="250.5" r="1.9" fill="#4a3f86"/>
<circle cx="446.2" cy="257.5" r="1.9" fill="#2c4c9c"/>
<circle cx="464.8" cy="249.6" r="1.9" fill="#2c4c9c"/>
<circle cx="479.4" cy="238.1" r="1.9" fill="#2c4c9c"/>
<circle cx="494.4" cy="225.2" r="1.9" fill="#2c4c9c"/>
<circle cx="446.2" cy="263.4" r="1.9" fill="#1e7a4c"/>
<circle cx="464.8" cy="257" r="1.9" fill="#1e7a4c"/>
<circle cx="479.4" cy="249.8" r="1.9" fill="#1e7a4c"/>
<circle cx="494.4" cy="241.2" r="1.9" fill="#1e7a4c"/>
<text transform="translate(349.5,233.8) rotate(-14)" class="cl" fill="#666" style="font-size:6.5px">Graphene grown on Ni</text>
<text transform="translate(387.5,243.3) rotate(-14)" class="cl" fill="#8fd2e4">Carbon nanotubes</text>
<text transform="translate(438.6,211.2) rotate(-27.5)" class="cl" fill="#f0a060">Wet-transferred graphene</text>
<text transform="translate(460.8,208.5) rotate(-27.5)" class="cl" fill="#f0a060">(ref. 19)</text>
<text transform="translate(374.2,278) rotate(-24)" class="cl" fill="#f08a8a">ITO (calculation)</text>
<text transform="translate(451.5,252) rotate(-33)" class="cl" fill="#2c4c9c">R2R graphene</text>
<text transform="translate(440.5,278.5) rotate(-28)" class="cl" fill="#1e7a4c">R2R graphene + doping</text>
<text transform="translate(381,297.3) rotate(-11.5)" class="cl" fill="#c07cc0">Graphene (calculation)</text>
<line x1="318.4" y1="172.5" x2="332.2" y2="172.5" stroke="#80b898" stroke-width="0.9"/><circle cx="325.6" cy="172.5" r="1.9" fill="#1e7a4c"/>
<text x="335.6" y="174.8" class="lc">This work</text>
<line x1="318.4" y1="181.1" x2="332.2" y2="181.1" stroke="#8090c8" stroke-width="0.9"/><circle cx="325.6" cy="181.1" r="1.9" fill="#2c4c9c"/>
<text x="335.6" y="183.4" class="lc">This work</text>
<line x1="318.4" y1="189.7" x2="332.2" y2="189.7" stroke="#9a94c0" stroke-width="0.9"/><circle cx="325.6" cy="189.7" r="1.9" fill="#4a3f86"/>
<text x="335.6" y="192" class="lc">Theory</text>
<line x1="368" y1="172.5" x2="382.6" y2="172.5" stroke="#555" stroke-width="0.9"/><circle cx="375.2" cy="172.5" r="1.9" fill="#111"/>
<text x="384.7" y="174.8" class="lc">Ref. 6</text>
<line x1="368" y1="180.9" x2="382.6" y2="180.9" stroke="#eeb080" stroke-width="0.9"/><circle cx="375.2" cy="180.9" r="1.9" fill="#e8923a"/>
<text x="384.7" y="183.2" class="lc">Ref. 19</text>
<line x1="368" y1="189.3" x2="382.6" y2="189.3" stroke="#a8dcea" stroke-width="0.9"/><circle cx="375.2" cy="189.3" r="1.9" fill="#5cb8d0"/>
<text x="384.7" y="191.6" class="lc">Ref. 25</text>
<line x1="368" y1="197.8" x2="382.6" y2="197.8" stroke="#f0a0a8" stroke-width="0.9"/><circle cx="375.2" cy="197.8" r="1.9" fill="#d4143c"/>
<text x="384.7" y="200.1" class="lc">Ref. 28</text>
</g>
</svg>
</body></html>
